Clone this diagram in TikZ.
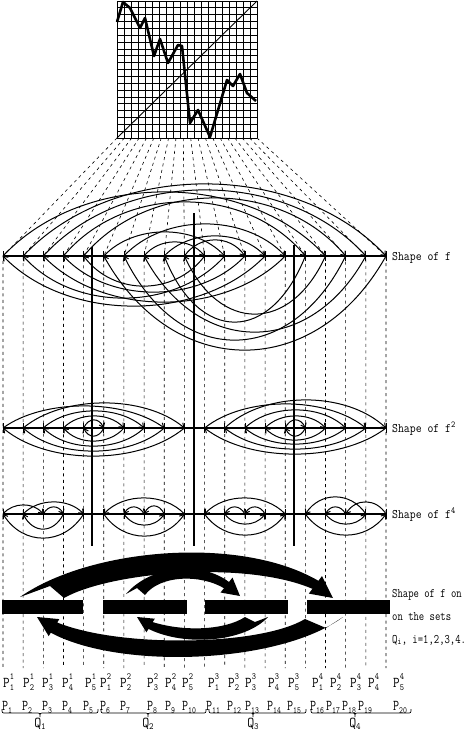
\documentclass[tikz,border=0pt]{standalone}
\usepackage{graphicx}
\usetikzlibrary{arrows.meta}
\newcommand{\PP}[2]{\scalebox{0.85}[1]{P\rlap{\raisebox{1.2ex}{\fontsize{9.5}{9}\selectfont #2}}\raisebox{-0.55ex}{\fontsize{9.5}{9}\selectfont #1}}}
\newcommand{\Ps}[1]{\scalebox{0.78}[1]{P\raisebox{-0.55ex}{\fontsize{9.5}{9}\selectfont #1}}}
\newcommand{\mybrace}[4]{%
  \draw[line width=0.7pt] (#1,#4) .. controls (#1,#4+4) .. (#1+4,#4+4) -- (#3-4,#4+4) .. controls (#3,#4+4) .. (#3,#4+8) .. controls (#3,#4+4) .. (#3+4,#4+4) -- (#2-4,#4+4) .. controls (#2,#4+4) .. (#2,#4);}
\begin{document}
\begin{tikzpicture}[x=1pt,y=-1pt,
  dsh/.style={line width=0.6pt, dash pattern=on 3pt off 3.5pt},
  axisl/.style={line width=1.1pt},
  tickl/.style={line width=0.7pt},
  arcl/.style={line width=1pt, -{Straight Barb[length=3.8pt,width=6pt]}},
  thickl/.style={line width=2.4pt},
  gridl/.style={line width=0.75pt},
  lbl/.style={font=\ttfamily\fontsize{13}{14}\selectfont, anchor=base west, inner sep=0pt},
  plbl/.style={font=\ttfamily\fontsize{15}{16}\selectfont, anchor=base west, inner sep=0pt}]
\useasboundingbox (0,0) rectangle (474,732);
% named points
\foreach \i in {1,...,20}{
  \pgfmathsetmacro{\xx}{3+20.158*(\i-1)}
  \pgfmathsetmacro{\tx}{117+(\i-1)*140/19}
  \coordinate (t\i) at (\tx,138);
  \coordinate (f\i) at (\xx,256);
  \coordinate (g\i) at (\xx,428);
  \coordinate (h\i) at (\xx,514);
  \coordinate (e\i) at (\xx,668);
}
% dashed fan and verticals
\foreach \i in {1,...,20}{
  \draw[dsh] (t\i) -- (f\i) -- (e\i);
}
% grid
\foreach \k in {0,...,20}{
  \draw[gridl] ({117+7*\k},1) -- ({117+7*\k},138);
  \draw[gridl] (117,{1+6.85*\k}) -- (257,{1+6.85*\k});
}
\draw[line width=0.9pt] (117,138) -- (257,1);
\draw[line width=2.6pt, line join=round] (117,22) -- (123,2) -- (130,8) -- (140,28) -- (145,18) -- (154,56) -- (160,39) -- (168,63) -- (178,45) -- (182,46) -- (190,123) -- (198,110) -- (210,137) -- (227,80) -- (233,86) -- (240,74) -- (247,93) -- (256,101);
% axes
\draw[axisl] (f1) -- (f20);
\draw[axisl] (g1) -- (g20);
\draw[axisl] (h1) -- (h20);
\foreach \i in {1,...,20}{
  \draw[tickl] (f\i) ++(0,-5) -- ++(0,10);
  \draw[tickl] (g\i) ++(0,-5) -- ++(0,10);
  \draw[tickl] (h\i) ++(0,-5) -- ++(0,10);
}
% shape of f
\foreach \a/\b/\h in {1/17/64, 2/20/72, 3/19/66, 4/16/54, 5/18/58, 6/12/24, 7/15/32, 8/11/14, 9/14/20, 10/13/16}
  \draw[arcl] (f\a) .. controls +({5*(\b-\a)},{-1.333*\h}) and +({-5*(\b-\a)},{-1.333*\h}) .. (f\b);
\foreach \a/\b/\h in {12/2/42, 13/4/36, 14/1/50, 11/5/30, 15/3/46, 20/6/94, 18/7/84, 19/8/76, 16/9/66, 17/10/58}
  \draw[arcl] (f\a) .. controls +({5*(\b-\a)},{1.333*\h}) and +({-5*(\b-\a)},{1.333*\h}) .. (f\b);
% shape of f^2
\foreach \a/\b/\h in {1/9/22, 2/10/25, 3/8/17, 4/7/12, 5/6/8, 11/19/24, 12/20/28, 13/18/18, 14/17/12, 15/16/8}
  \draw[arcl] (g\a) .. controls +({5*(\b-\a)},{-1.333*\h}) and +({-5*(\b-\a)},{-1.333*\h}) .. (g\b);
\foreach \a/\b/\h in {10/1/28, 9/2/23, 8/3/18, 7/4/13, 6/5/8, 20/11/26, 19/12/21, 18/13/16, 17/14/12, 16/15/8}
  \draw[arcl] (g\a) .. controls +({5*(\b-\a)},{1.333*\h}) and +({-5*(\b-\a)},{1.333*\h}) .. (g\b);
% shape of f^4
\foreach \a/\b/\h in {1/3/9, 2/5/12, 3/4/7, 10/6/16, 9/8/8, 8/7/7, 15/11/16, 14/13/7, 13/12/7, 19/16/17, 20/18/12, 18/17/7}
  \draw[arcl] (h\a) .. controls +({5*(\b-\a)},{-1.333*\h}) and +({-5*(\b-\a)},{-1.333*\h}) .. (h\b);
\foreach \a/\b/\h in {5/1/24, 4/2/15, 6/10/22, 7/9/11, 11/15/21, 12/14/10, 16/20/21, 17/19/10}
  \draw[arcl] (h\a) .. controls +({5*(\b-\a)},{1.333*\h}) and +({-5*(\b-\a)},{1.333*\h}) .. (h\b);
% thick separators
\coordinate (k1t) at (92,247); \coordinate (k1b) at (92,546);
\coordinate (k2t) at (194,213); \coordinate (k2b) at (194,546);
\coordinate (k3t) at (294,245); \coordinate (k3b) at (294,546);
\draw[thickl] (k1t) -- (k1b);
\draw[thickl] (k2t) -- (k2b);
\draw[thickl] (k3t) -- (k3b);
% bars
\fill (2,600) rectangle (83,614);
\fill (103,600) rectangle (187,614);
\fill (205,600) rectangle (288,614);
\fill (307,600) rectangle (390,614);
% big arrows
\fill (20,597) .. controls (90,548) and (240,535) .. (318.4,580.8) -- (322,576) -- (333,598) -- (308.8,593.6) -- (312.4,588.8) .. controls (245,560) and (110,572) .. (64,598) -- (50,586) -- cycle;
\fill (126,594) .. controls (150,566) and (200,560) .. (229,582) -- (232.5,577.6) -- (240,596) -- (220.5,592.5) -- (224,588.2) .. controls (200,574) and (160,575) .. (145,595) -- (137,588) -- cycle;
\fill (37,617) -- (48.7,636.1) -- (50.8,632.7) .. controls (120,670) and (280,664) .. (343,617) -- (326,628) -- (305,619) .. controls (260,646) and (120,648) .. (57.2,622.5) -- (59.3,619.1) -- cycle;
\fill (137,617) -- (146.4,632.3) -- (148.5,628.9) .. controls (185,647) and (245,642) .. (268,617) -- (255,622) -- (245,617) .. controls (225,630) and (185,632) .. (152.7,622.1) -- (154.8,618.7) -- cycle;
% right labels
\node[lbl] (s1) at (392,260) {\scalebox{0.88}[1]{Shape of f}};
\node[lbl] (s2) at (392,432) {\scalebox{0.88}[1]{Shape of f\textsuperscript{2}}};
\node[lbl] (s3) at (392,518) {\scalebox{0.88}[1]{Shape of f\textsuperscript{4}}};
\node[lbl] (s4) at (392,597) {\scalebox{0.8}[1]{Shape of f on}};
\node[lbl] (s5) at (392,620) {\scalebox{0.8}[1]{on the sets}};
\node[lbl] (s6) at (392,643) {\scalebox{0.8}[1]{Q\textsubscript{i}, i=1,2,3,4.}};
% P labels
\foreach \x/\s/\u [count=\n] in {3/1/1, 23/2/1, 42/3/1, 62/4/1, 85/5/1, 100/1/2, 120/2/2, 147/3/2, 165/4/2, 182/5/2, 208/1/3, 228/2/3, 245/3/3, 268/4/3, 288/5/3, 312/1/4, 330/2/4, 350/3/4, 368/4/4, 393/5/4}
  \node[plbl] (ra\n) at (\x,687) {\PP{\s}{\u}};
\foreach \x/\s in {2/1, 22/2, 42/3, 62/4, 83/5, 100/6, 120/7, 147/8, 165/9, 182/10, 206/11, 227/12, 245/13, 267/14, 287/15, 310/16, 326/17, 342/18, 358/19, 393/20}
  \node[plbl] (rb\s) at (\x,710) {\Ps{\s}};
\mybrace{2}{98}{40}{709}
\mybrace{101}{206}{148}{709}
\mybrace{209}{306}{253}{709}
\mybrace{311}{411}{355}{709}
\foreach \x/\s in {40/1, 148/2, 253/3, 355/4}
  \node[plbl, anchor=base] (q\s) at (\x,727) {\scalebox{0.9}[1]{Q\raisebox{-0.45ex}{\fontsize{9.5}{9}\selectfont \s}}};
\end{tikzpicture}
\end{document}
